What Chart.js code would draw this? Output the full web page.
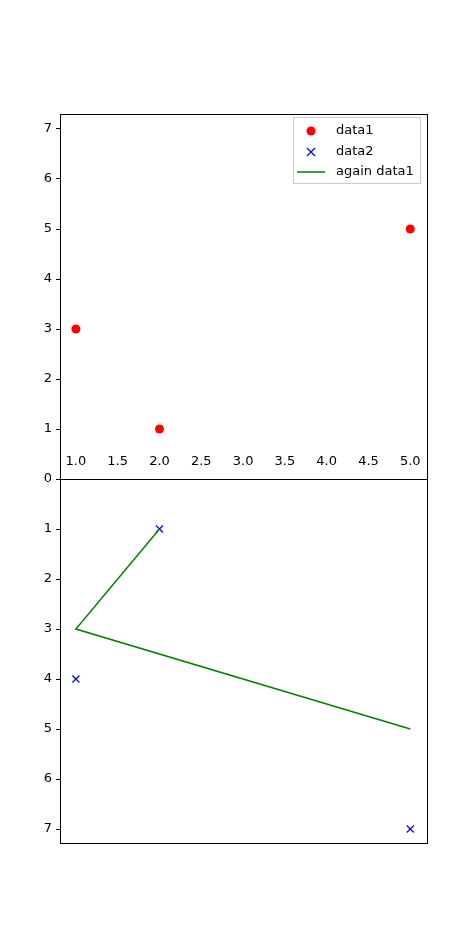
<!DOCTYPE html>
<html><head><meta charset="utf-8">
<script src="https://cdn.jsdelivr.net/npm/chart.js@4/dist/chart.umd.min.js"></script>
<style>
body{margin:0;background:#fff;}
.wrap{position:absolute;left:0;top:0;width:474px;height:948px;}
</style></head><body>
<div class="wrap"><canvas id="top"></canvas></div>
<div class="wrap"><canvas id="bottom"></canvas></div>
<script>
const data1X = [1, 2, 5];
const data1Y = [3, 1, 5];
const data2X = [2, 1, 5];
const data2Y = [1, 4, 7];
const againX = [2, 1, 5];
const againY = [1, 3, 5];
const xTicks = [1.0, 1.5, 2.0, 2.5, 3.0, 3.5, 4.0, 4.5, 5.0];
const legendLabels = ["data1", "data2", "again data1"];

const pts = (xs, ys) => xs.map((x, i) => ({x, y: ys[i]}));
const FONT = '13px "DejaVu Sans"';

// frame + x ticks drawn like matplotlib
const frame = (showXLabels) => ({
  id: 'frame',
  afterDraw(chart){
    const {ctx, chartArea: a, scales: {x}} = chart;
    ctx.save();
    ctx.strokeStyle = '#000'; ctx.lineWidth = 1;
    ctx.strokeRect(a.left + .5, a.top + .5, a.right - a.left, a.bottom - a.top);
    if(showXLabels){
      ctx.fillStyle = '#000'; ctx.font = FONT; ctx.textAlign = 'center'; ctx.textBaseline = 'middle';
      xTicks.forEach(v => {
        const px = x.getPixelForValue(v);
        ctx.fillText(v.toFixed(1), px, a.bottom - 17);
      });
      // legend
      const lx = 293, ly = 117, lw = 127, lh = 66;
      ctx.fillStyle = 'rgba(255,255,255,0.8)';
      ctx.strokeStyle = '#ccc';
      ctx.fillRect(lx, ly, lw, lh); ctx.strokeRect(lx + .5, ly + .5, lw, lh);
      const rows = [131, 152, 172];
      ctx.fillStyle = 'red'; ctx.beginPath(); ctx.arc(311, rows[0], 4.5, 0, Math.PI*2); ctx.fill();
      ctx.strokeStyle = 'blue'; ctx.lineWidth = 1.2; ctx.beginPath();
      ctx.moveTo(307, rows[1]-4); ctx.lineTo(315, rows[1]+4); ctx.moveTo(315, rows[1]-4); ctx.lineTo(307, rows[1]+4); ctx.stroke();
      ctx.strokeStyle = 'green'; ctx.lineWidth = 1.5; ctx.beginPath();
      ctx.moveTo(297, rows[2]); ctx.lineTo(325, rows[2]); ctx.stroke();
      ctx.fillStyle = '#000'; ctx.textAlign = 'left';
      legendLabels.forEach((t, i) => ctx.fillText(t, 336, rows[i]));
    }
    ctx.restore();
  }
});

function makeChart(id, datasets, yOpts, padTop, padBottom, showXLabels){
  return new Chart(document.getElementById(id), {
    type: 'scatter',
    data: {datasets},
    options: {
      responsive: true, maintainAspectRatio: false, animation: false,
      layout: {padding: {left: 0, top: padTop, right: 47, bottom: padBottom}},
      plugins: {legend: {display: false}, tooltip: {enabled: false}},
      scales: {
        x: {type: 'linear', display: false, min: 0.81, max: 5.2},
        y: Object.assign({
          type: 'linear',
          afterFit: s => { s.width = 60; },
          grid: {drawOnChartArea: false, tickLength: 4, color: '#000'},
          border: {display: false},
          ticks: {color: '#000', font: {family: 'DejaVu Sans', size: 13}, stepSize: 1, padding: 4}
        }, yOpts)
      }
    },
    plugins: [frame(showXLabels)]
  });
}

makeChart('top', [
  {data: pts(data1X, data1Y), showLine: false, pointStyle: 'circle', pointRadius: 4.5,
   backgroundColor: 'red', borderColor: 'red', borderWidth: 0}
], {min: 0, max: 7.3, afterBuildTicks: s => { s.ticks = [0,1,2,3,4,5,6,7].map(v => ({value: v})); }},
   114, 469, true);

makeChart('bottom', [
  {data: pts(againX, againY), showLine: true, pointRadius: 0, borderColor: 'green', borderWidth: 1.5, fill: false},
  {data: pts(data2X, data2Y), showLine: false, pointStyle: 'crossRot', pointRadius: 5,
   borderColor: 'blue', borderWidth: 1.2}
], {reverse: true, min: 0, max: 7.28, afterBuildTicks: s => { s.ticks = [1,2,3,4,5,6,7].map(v => ({value: v})); }},
   479, 105, false);
</script>
</body></html>
